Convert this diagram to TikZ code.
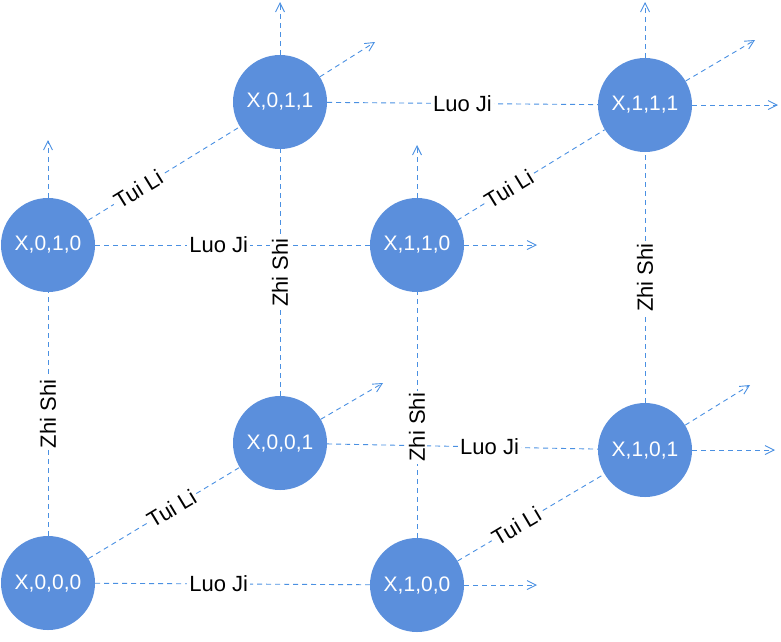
\documentclass[tikz,border=0pt]{standalone}
\usepackage{fontspec}
\setmainfont{Liberation Sans}
\usetikzlibrary{arrows.meta}
\definecolor{nb}{HTML}{5B8FDC}
\definecolor{ln}{HTML}{4A90E2}
\begin{document}
\begin{tikzpicture}[x=1pt,y=-1pt,
  st/.style={circle,fill=nb,minimum size=94pt,inner sep=0pt,text=white,font=\fontsize{21}{23}\selectfont},
  ed/.style={draw=ln,dashed,dash pattern=on 5pt off 4pt,line width=0.9pt},
  ar/.style={ed,-{Straight Barb[length=9pt,width=9pt]}},
  lb/.style={fill=white,inner sep=2pt,font=\fontsize{22}{24}\selectfont,text=black}]
\useasboundingbox (0,0) rectangle (781,641);
\node[st] (a) at (48,583) {X,0,0,0};
\node[st] (b) at (417,585) {X,1,0,0};
\node[st] (c) at (280,443) {X,0,0,1};
\node[st] (d) at (645,450) {X,1,0,1};
\node[st] (e) at (48,245) {X,0,1,0};
\node[st] (f) at (417,245) {X,1,1,0};
\node[st] (g) at (280,102) {X,0,1,1};
\node[st] (h) at (645,105) {X,1,1,1};
\coordinate (bo) at (537,585);
\coordinate (co) at (383,383);
\coordinate (do1) at (775,450);
\coordinate (do2) at (750,385);
\coordinate (eo) at (48,140);
\coordinate (fo1) at (537,245);
\coordinate (fo2) at (417,145);
\coordinate (go1) at (280,2);
\coordinate (go2) at (375,42);
\coordinate (ho1) at (645,2);
\coordinate (ho2) at (755,40);
\coordinate (ho3) at (778,105);
% outward arrows
\draw[ar] (b) -- (bo);
\draw[ar] (c) -- (co);
\draw[ar] (d) -- (do1);
\draw[ar] (d) -- (do2);
\draw[ar] (e) -- (eo);
\draw[ar] (f) -- (fo1);
\draw[ar] (f) -- (fo2);
\draw[ar] (g) -- (go1);
\draw[ar] (g) -- (go2);
\draw[ar] (h) -- (ho1);
\draw[ar] (h) -- (ho2);
\draw[ar] (h) -- (ho3);
% connectors
\draw[ed] (a) -- node[lb,pos=0.45]{Luo Ji} (b);
\draw[ed] (c) -- node[lb,pos=0.6]{Luo Ji} (d);
\draw[ed] (e) -- node[lb,pos=0.45]{Luo Ji} (f);
\draw[ed] (g) -- node[lb,pos=0.5]{Luo Ji} (h);
\draw[ed] (a) -- node[lb,sloped,pos=0.55]{Tui Li} (c);
\draw[ed] (b) -- node[lb,sloped,pos=0.4]{Tui Li} (d);
\draw[ed] (e) -- node[lb,sloped,pos=0.33]{Tui Li} (g);
\draw[ed] (f) -- node[lb,sloped,pos=0.35]{Tui Li} (h);
\draw[ed] (a) -- node[lb,sloped,pos=0.5]{Zhi Shi} (e);
\draw[ed] (b) -- node[lb,sloped,pos=0.45]{Zhi Shi} (f);
\draw[ed] (c) -- node[lb,sloped,pos=0.5]{Zhi Shi} (g);
\draw[ed] (d) -- node[lb,sloped,pos=0.5]{Zhi Shi} (h);
\end{tikzpicture}
\end{document}
